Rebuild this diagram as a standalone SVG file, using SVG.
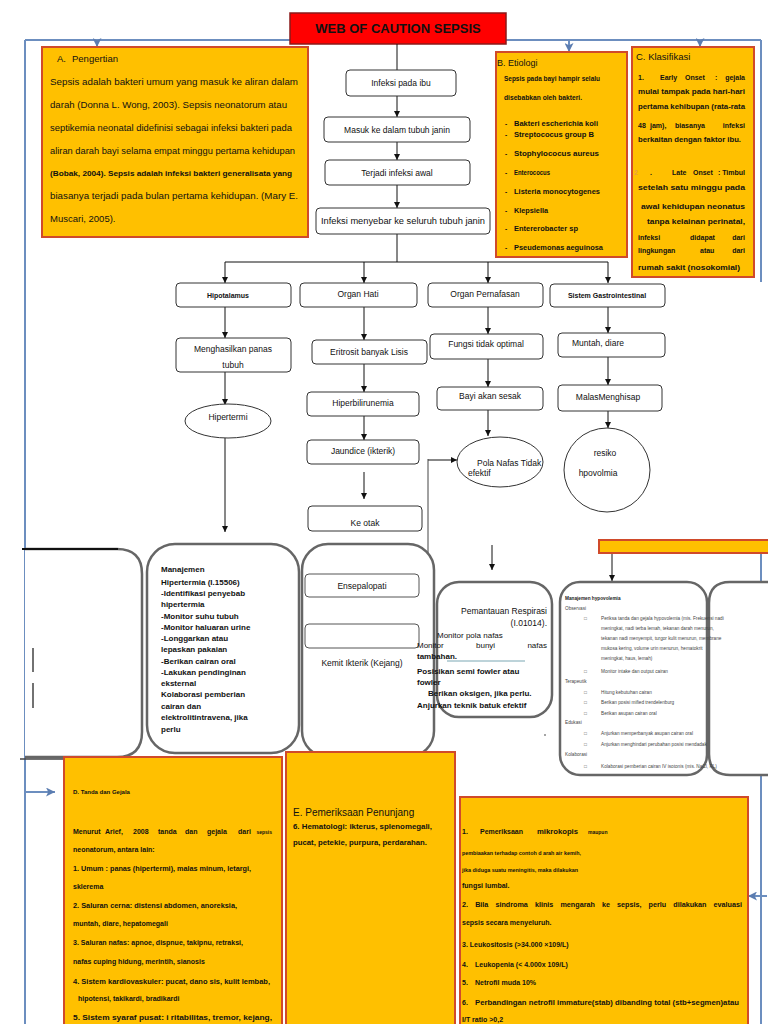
<svg xmlns="http://www.w3.org/2000/svg" width="768" height="1024" viewBox="0 0 768 1024">
<defs>
<marker id="ah" viewBox="0 0 8 8" refX="8" refY="4" markerWidth="6" markerHeight="6" markerUnits="userSpaceOnUse" orient="auto"><path d="M0,0 L8,4 L0,8 z" fill="#111"/></marker>
<marker id="bh" viewBox="0 0 8 8" refX="8" refY="4" markerWidth="9" markerHeight="9" markerUnits="userSpaceOnUse" orient="auto"><path d="M0,0 L8,4 L0,8 L2,4 z" fill="#5B7DB1"/></marker>
<style>
.orange{fill:#FFC000;stroke:#D04A2A;stroke-width:2}
.fb{fill:#fff;stroke:#333;stroke-width:1}
.rb{fill:#fff;stroke:#666;stroke-width:2.5}
.ln{stroke:#111;stroke-width:1;fill:none}
.bl{stroke:#6C8EBF;stroke-width:2;fill:none}
.t{font-family:"Liberation Sans",Arial,sans-serif;fill:#111}
.f{font-size:8.5px}
.fs{font-size:7px;font-weight:bold}
.a{font-size:9.5px}
.b{font-size:6.5px;font-weight:bold}
.c{font-size:7px;font-weight:bold}
.m{font-size:8px;font-weight:bold}
.h{font-size:4.7px;fill:#444}
.d{font-size:7px;font-weight:bold}
.mid{text-anchor:middle}
.e{text-anchor:end}
</style>
</defs>
<rect width="768" height="1024" fill="#fff"/>

<g id="frame">
<path class="bl" d="M25,40 H290 M506,40 H761 M25,40 V1024 M761,40 V282 M761,545 V1024"/>
<line class="bl" x1="97" y1="40" x2="97" y2="47" marker-end="url(#bh)"/>
<line class="bl" x1="569" y1="40" x2="569" y2="52" marker-end="url(#bh)"/>
<line class="bl" x1="700" y1="40" x2="700" y2="47" marker-end="url(#bh)"/>
<line class="bl" x1="25" y1="792" x2="55" y2="792" marker-end="url(#bh)"/>
<line class="bl" x1="767" y1="896" x2="748" y2="896" marker-end="url(#bh)"/>
</g>

<g id="title">
<rect x="290" y="13" width="216" height="31" fill="#FF0000" stroke="#8B1A1A" stroke-width="1.5"/>
<text class="t mid" x="398" y="33" style="font-size:13px;font-weight:bold">WEB OF CAUTION SEPSIS</text>
</g>

<g id="boxA">
<rect class="orange" x="42" y="47" width="266" height="190"/>
<text class="t a" x="57" y="62">A.</text><text class="t a" x="72" y="62">Pengertian</text>
<text class="t a" x="50" y="85" textLength="248" lengthAdjust="spacingAndGlyphs">Sepsis adalah bakteri umum yang masuk ke aliran dalam</text>
<text class="t a" x="50" y="108" textLength="237" lengthAdjust="spacingAndGlyphs">darah (Donna L. Wong, 2003). Sepsis neonatorum atau</text>
<text class="t a" x="50" y="131" textLength="242" lengthAdjust="spacingAndGlyphs">septikemia neonatal didefinisi sebagai infeksi bakteri pada</text>
<text class="t a" x="50" y="154" textLength="245" lengthAdjust="spacingAndGlyphs">aliran darah bayi selama empat minggu pertama kehidupan</text>
<text class="t" x="50" y="176" style="font-size:7.5px;font-weight:bold" textLength="242" lengthAdjust="spacingAndGlyphs">(Bobak, 2004). Sepsis adalah infeksi bakteri generalisata yang</text>
<text class="t a" x="50" y="199" textLength="248" lengthAdjust="spacingAndGlyphs">biasanya terjadi pada bulan pertama kehidupan. (Mary E.</text>
<text class="t a" x="50" y="222">Muscari, 2005).</text>
</g>

<g id="boxB">
<rect class="orange" x="496" y="52" width="131" height="205"/>
<text class="t" x="497" y="66" style="font-size:9px">B. Etiologi</text>
<text class="t b" x="504" y="81" textLength="96" lengthAdjust="spacingAndGlyphs">Sepsis pada bayi hampir selalu</text>
<text class="t b" x="504" y="100" textLength="78" lengthAdjust="spacingAndGlyphs">disebabkan oleh bakteri.</text>
<g class="t b">
<text x="505" y="126">-</text><text x="514" y="126" textLength="84" lengthAdjust="spacingAndGlyphs">Bakteri escherichia koli</text>
<text x="505" y="137">-</text><text x="514" y="137" textLength="80" lengthAdjust="spacingAndGlyphs">Streptococus group B</text>
<text x="505" y="156">-</text><text x="514" y="156" textLength="85" lengthAdjust="spacingAndGlyphs">Stophylococus aureus</text>
<text x="505" y="175">-</text><text x="514" y="175" textLength="36" lengthAdjust="spacingAndGlyphs">Enterococus</text>
<text x="505" y="194">-</text><text x="514" y="194" textLength="86" lengthAdjust="spacingAndGlyphs">Listeria monocytogenes</text>
<text x="505" y="213">-</text><text x="514" y="213" textLength="34" lengthAdjust="spacingAndGlyphs">Klepsiella</text>
<text x="505" y="231">-</text><text x="514" y="231" textLength="64" lengthAdjust="spacingAndGlyphs">Entererobacter sp</text>
<text x="505" y="250">-</text><text x="514" y="250" textLength="89" lengthAdjust="spacingAndGlyphs">Pseudemonas aeguinosa</text>
</g>
</g>

<g id="boxC">
<rect class="orange" x="632" y="47" width="122" height="230"/>
<text class="t" x="636" y="60" style="font-size:9.5px">C. Klasifikasi</text>
<g class="t c">
<text x="638" y="79.5">1.</text><text x="660" y="79.5">Early</text><text x="685" y="79.5">Onset</text><text x="715" y="79.5">:</text><text x="745" y="79.5" class="e">gejala</text>
<text x="638" y="94" textLength="107" lengthAdjust="spacingAndGlyphs">mulai tampak pada hari-hari</text>
<text x="638" y="108.5" textLength="107" lengthAdjust="spacingAndGlyphs">pertama kehibupan (rata-rata</text>
<text x="638" y="127.5">48</text><text x="650" y="127.5">jam),</text><text x="675" y="127.5">biasanya</text><text x="745" y="127.5" class="e">infeksi</text>
<text x="638" y="141.5" textLength="103" lengthAdjust="spacingAndGlyphs">berkaitan dengan faktor ibu.</text>
<text x="634" y="174.5" style="fill:#E8A040">2</text>
<text x="650" y="174.5">.</text><text x="672" y="174.5">Late</text><text x="693" y="174.5">Onset</text><text x="718" y="174.5">:</text><text x="745" y="174.5" class="e">Timbul</text>
<text x="638" y="189.5" textLength="107" lengthAdjust="spacingAndGlyphs">setelah satu minggu pada</text>
<text x="641" y="208.5" textLength="104" lengthAdjust="spacingAndGlyphs">awal kehidupan neonatus</text>
<text x="647" y="223.5" textLength="98" lengthAdjust="spacingAndGlyphs">tanpa kelainan perinatal,</text>
<text x="638" y="239.5">infeksi</text><text x="690" y="239.5">didapat</text><text x="745" y="239.5" class="e">dari</text>
<text x="638" y="252.5">lingkungan</text><text x="700" y="252.5">atau</text><text x="745" y="252.5" class="e">dari</text>
<text x="638" y="269.5" textLength="102" lengthAdjust="spacingAndGlyphs">rumah sakit (nosokomial)</text>
</g>
</g>

<g id="connectors">
<path class="ln" d="M397,44 V70"/>
<line class="ln" x1="397" y1="96" x2="397" y2="117" marker-end="url(#ah)"/>
<line class="ln" x1="397" y1="142" x2="397" y2="160" marker-end="url(#ah)"/>
<line class="ln" x1="397" y1="185" x2="397" y2="208" marker-end="url(#ah)"/>
<path class="ln" d="M397,234 V262 M225,262 H608"/>
<line class="ln" x1="225" y1="262" x2="225" y2="283" marker-end="url(#ah)"/>
<line class="ln" x1="364" y1="262" x2="364" y2="283" marker-end="url(#ah)"/>
<line class="ln" x1="488" y1="262" x2="488" y2="283" marker-end="url(#ah)"/>
<line class="ln" x1="608" y1="262" x2="608" y2="283" marker-end="url(#ah)"/>
<line class="ln" x1="225" y1="307" x2="225" y2="338" marker-end="url(#ah)"/>
<line class="ln" x1="225" y1="372" x2="225" y2="405" marker-end="url(#ah)"/>
<line class="ln" x1="225" y1="438" x2="225" y2="532" marker-end="url(#ah)"/>
<line class="ln" x1="364" y1="307" x2="364" y2="340" marker-end="url(#ah)"/>
<line class="ln" x1="364" y1="363" x2="364" y2="392" marker-end="url(#ah)"/>
<line class="ln" x1="364" y1="416" x2="364" y2="440" marker-end="url(#ah)"/>
<line class="ln" x1="364" y1="472" x2="364" y2="499" marker-end="url(#ah)"/>
<line class="ln" x1="428" y1="460" x2="457" y2="460" marker-end="url(#ah)"/>
<path class="ln" d="M428,459 V632 H419" style="stroke:#444"/>
<line class="ln" x1="488" y1="307" x2="488" y2="334" marker-end="url(#ah)"/>
<line class="ln" x1="488" y1="359" x2="488" y2="387" marker-end="url(#ah)"/>
<line class="ln" x1="488" y1="410" x2="488" y2="436" marker-end="url(#ah)"/>
<line class="ln" x1="608" y1="307" x2="608" y2="333" marker-end="url(#ah)"/>
<line class="ln" x1="608" y1="357" x2="608" y2="385" marker-end="url(#ah)"/>
<line class="ln" x1="608" y1="411" x2="608" y2="428" marker-end="url(#ah)"/>
<line class="ln" x1="360" y1="552" x2="360" y2="569" marker-end="url(#ah)"/>
<line class="ln" x1="360" y1="603" x2="360" y2="619" marker-end="url(#ah)"/>
<line class="ln" x1="492" y1="545" x2="492" y2="570" marker-end="url(#ah)"/>
<line class="ln" x1="612" y1="553" x2="612" y2="581" marker-end="url(#ah)"/>
</g>

<g id="n-infeksi-ibu"><rect class="fb" x="346" y="70" width="110" height="26" rx="4"/><text class="t f mid" x="401" y="86">Infeksi pada ibu</text></g>
<g id="n-masuk"><rect class="fb" x="324" y="117" width="146" height="25" rx="4"/><text class="t f mid" x="397" y="133">Masuk ke dalam tubuh janin</text></g>
<g id="n-awal"><rect class="fb" x="325" y="160" width="145" height="25" rx="4"/><text class="t f mid" x="397" y="176">Terjadi infeksi awal</text></g>
<g id="n-menyebar"><rect class="fb" x="316" y="208" width="174" height="26" rx="4"/><text class="t f mid" x="403" y="224" textLength="164" lengthAdjust="spacingAndGlyphs">Infeksi menyebar ke seluruh tubuh janin</text></g>

<g id="n-hipotalamus"><rect class="fb" x="176" y="283" width="115" height="24" rx="4"/><text class="t fs mid" x="228" y="298">Hipotalamus</text></g>
<g id="n-hati"><rect class="fb" x="300" y="283" width="117" height="24" rx="4"/><text class="t f mid" x="358" y="297">Organ Hati</text></g>
<g id="n-pernafasan"><rect class="fb" x="428" y="283" width="115" height="24" rx="4"/><text class="t f mid" x="485" y="297">Organ Pernafasan</text></g>
<g id="n-gastro"><rect class="fb" x="550" y="284" width="115" height="23" rx="4"/><text class="t fs mid" x="607" y="298">Sistem Gastrointestinal</text></g>

<g id="n-panas"><rect class="fb" x="176" y="338" width="115" height="34" rx="4"/><text class="t f mid" x="233" y="352">Menghasilkan panas</text><text class="t f mid" x="233" y="368">tubuh</text></g>
<g id="n-hipertermi"><ellipse class="fb" cx="228" cy="421" rx="43" ry="17"/><text class="t f mid" x="228" y="420">Hipertermi</text></g>

<g id="n-eritrosit"><rect class="fb" x="312" y="340" width="115" height="24" rx="4"/><text class="t f mid" x="369" y="355">Eritrosit banyak Lisis</text></g>
<g id="n-hiperbili"><rect class="fb" x="307" y="392" width="112" height="24" rx="4"/><text class="t f mid" x="363" y="406">Hiperbilirunemia</text></g>
<g id="n-jaundice"><rect class="fb" x="307" y="440" width="112" height="24" rx="4"/><text class="t f mid" x="363" y="454">Jaundice (ikterik)</text></g>
<g id="n-keotak"><rect class="fb" x="308" y="506" width="114" height="25" rx="4"/><text class="t f mid" x="365" y="526">Ke otak</text></g>

<g id="n-fungsi"><rect class="fb" x="430" y="334" width="113" height="25" rx="4"/><text class="t f mid" x="486" y="347">Fungsi tidak optimal</text></g>
<g id="n-sesak"><rect class="fb" x="437" y="387" width="106" height="23" rx="4"/><text class="t f mid" x="490" y="399">Bayi akan sesak</text></g>
<g id="n-polanafas"><ellipse class="fb" cx="500" cy="462" rx="43" ry="25"/><text class="t f" x="477" y="466">Pola Nafas Tidak</text><text class="t f" x="468" y="476">efektif</text></g>

<g id="n-muntah"><rect class="fb" x="558" y="333" width="107" height="24" rx="4"/><text class="t f mid" x="598" y="346">Muntah, diare</text></g>
<g id="n-malas"><rect class="fb" x="558" y="385" width="104" height="26" rx="4"/><text class="t f mid" x="608" y="400">MalasMenghisap</text></g>
<g id="n-resiko"><ellipse class="fb" cx="607" cy="470" rx="43" ry="42"/><text class="t f mid" x="605" y="456">resiko</text><text class="t f mid" x="598" y="476">hpovolmia</text></g>

<g id="n-leftpartial">
<path d="M25,549 H117 Q142,549 142,574 V732 Q142,757 117,757 H25" class="rb"/>
<path d="M22,549 H118" stroke="#111" stroke-width="2"/>
<path d="M20,759 H65" stroke="#444" stroke-width="1.5"/>
<path d="M33,648 V672 M33,683 V708" stroke="#444" stroke-width="1.5"/>
</g>

<g id="n-manajemen-hipertermia">
<rect class="rb" x="147" y="544" width="152" height="209" rx="28"/>
<g class="t m">
<text x="161" y="572">Manajemen</text>
<text x="161" y="585">Hipertermia (I.15506)</text>
<text x="161" y="596">-Identifikasi penyebab</text>
<text x="161" y="607">hipertermia</text>
<text x="161" y="619">-Monitor suhu tubuh</text>
<text x="161" y="630">-Monitor haluaran urine</text>
<text x="161" y="641">-Longgarkan atau</text>
<text x="161" y="652">lepaskan pakaian</text>
<text x="161" y="664">-Berikan cairan oral</text>
<text x="161" y="675">-Lakukan pendinginan</text>
<text x="161" y="686">eksternal</text>
<text x="161" y="697">Kolaborasi pemberian</text>
<text x="161" y="709">cairan dan</text>
<text x="161" y="720">elektrolitintravena, jika</text>
<text x="161" y="732">perlu</text>
</g>
</g>

<g id="n-otak-panel">
<rect class="rb" x="302" y="544" width="132" height="213" rx="26"/>
</g>
<g id="n-ensepalopati"><rect class="fb" x="305" y="574" width="114" height="23" rx="4" style="stroke:#555"/><text class="t f mid" x="362" y="589">Ensepalopati</text></g>
<g id="n-kemit"><rect class="fb" x="305" y="624" width="114" height="24" rx="4" style="stroke:#555"/><text class="t f mid" x="362" y="666">Kemit Ikterik (Kejang)</text></g>

<g id="n-pemantauan">
<rect class="rb" x="437" y="582" width="115" height="135" rx="22"/>
<g class="t" style="font-size:8px;font-weight:bold">
<text x="547" y="614" text-anchor="end" style="font-weight:normal;font-size:8.5px">Pemantauan Respirasi</text>
<text x="547" y="626" text-anchor="end" style="font-weight:normal;font-size:8.5px">(I.01014).</text>
<text x="437" y="638" style="font-weight:normal">Monitor pola nafas</text>
<text x="417" y="648" style="font-weight:normal">Monitor</text>
<text x="476" y="648" style="font-weight:normal">bunyi</text>
<text x="547" y="648" style="font-weight:normal" text-anchor="end">nafas</text>
<text x="417" y="659">tambahan.</text>
<text x="417" y="674">Posisikan semi fowler atau</text>
<text x="417" y="685">fowler</text>
<text x="428" y="696">Berikan oksigen, jika perlu.</text>
<text x="417" y="708">Anjurkan teknik batuk efektif</text>
</g>
<path d="M447,661 H525" stroke="#7AA7B3" stroke-width="1"/>
<circle cx="545" cy="735" r="0.8" fill="#333"/>
</g>

<g id="orange-strip"><rect class="orange" x="599" y="540" width="170" height="13"/></g>

<g id="n-rightpartial">
<path class="rb" d="M769,582 H730 Q709,582 709,603 V754 Q709,775 730,775 H769"/>
</g>
<g id="n-hypovolemia">
<rect class="rb" x="560" y="582" width="147" height="193" rx="20"/>
<g class="t h">
<text x="565" y="600" style="font-weight:bold;fill:#222">Manajemen hypovolemia</text>
<text x="565" y="610">Observasi</text>
<text x="584" y="620">□</text><text x="601" y="620">Periksa tanda dan gejala hypovolemia (mis. Frekuensi nadi</text>
<text x="601" y="630">meningkat, nadi terba lemah, tekanan darah menurun,</text>
<text x="601" y="640">tekanan nadi menyempit, turgor kulit menurun, membrane</text>
<text x="601" y="650">mukosa kering, volume urin menurun, hematokrit</text>
<text x="601" y="660">meningkat, haus, lemah)</text>
<text x="584" y="673">□</text><text x="601" y="673">Monitor intake dan output cairan</text>
<text x="565" y="683">Terapeutik</text>
<text x="584" y="694">□</text><text x="601" y="694">Hitung kebutuhan cairan</text>
<text x="584" y="704">□</text><text x="601" y="704">Berikan posisi mified trendelenburg</text>
<text x="584" y="715">□</text><text x="601" y="715">Berikan asupan cairan oral</text>
<text x="565" y="724">Edukasi</text>
<text x="584" y="735">□</text><text x="601" y="735">Anjurkan memperbanyak asupan cairan oral</text>
<text x="584" y="746">□</text><text x="601" y="746">Anjurkan menghindari perubahan posisi mendadak</text>
<text x="565" y="756">Kolaborasi</text>
<text x="584" y="768">□</text><text x="601" y="768">Kolaborasi pemberian cairan IV isotonis (mis. NaCl, RL)</text>
</g>
</g>

<g id="boxD">
<rect class="orange" x="64" y="757" width="218" height="280"/>
<g class="t d">
<text x="73" y="794" style="font-size:6px">D. Tanda dan Gejala</text>
<text x="73" y="834">Menurut</text><text x="105" y="834">Arief,</text><text x="133" y="834">2008</text><text x="158" y="834">tanda</text><text x="185" y="834">dan</text><text x="207" y="834">gejala</text><text x="238" y="834">dari</text><text x="272" y="834" class="e" style="font-size:5px">sepsis</text>
<text x="73" y="852">neonatorum, antara lain:</text>
<text x="73" y="871" textLength="178" lengthAdjust="spacingAndGlyphs">1. Umum : panas (hipertermi), malas minum, letargi,</text>
<text x="73" y="889">sklerema</text>
<text x="73" y="908" textLength="164" lengthAdjust="spacingAndGlyphs">2. Saluran cerna: distensi abdomen, anoreksia,</text>
<text x="73" y="926">muntah, diare, hepatomegali</text>
<text x="73" y="945" textLength="170" lengthAdjust="spacingAndGlyphs">3. Saluran nafas: apnoe, dispnue, takipnu, retraksi,</text>
<text x="73" y="964">nafas cuping hidung, merintih, sianosis</text>
<text x="73" y="984" textLength="197" lengthAdjust="spacingAndGlyphs">4. Sistem kardiovaskuler: pucat, dano sis, kulit lembab,</text>
<text x="78" y="1001">hipotensi, takikardi, bradikardi</text>
<text x="73" y="1020" textLength="199" lengthAdjust="spacingAndGlyphs">5. Sistem syaraf pusat: i ritabilitas, tremor, kejang,</text>
</g>
</g>

<g id="boxE">
<rect class="orange" x="286" y="752" width="169" height="285"/>
<text class="t" x="293" y="816" style="font-size:10px">E. Pemeriksaan Penunjang</text>
<text class="t d" x="293" y="829" textLength="139" lengthAdjust="spacingAndGlyphs">6. Hematologi: ikterus, splenomegali,</text>
<text class="t d" x="293" y="845" textLength="134" lengthAdjust="spacingAndGlyphs">pucat, petekie, purpura, perdarahan.</text>
</g>

<g id="boxF">
<rect class="orange" x="460" y="797" width="288" height="240"/>
<g class="t d">
<text x="462" y="834">1.</text>
<text x="480" y="834" textLength="43" lengthAdjust="spacingAndGlyphs">Pemeriksaan</text>
<text x="537" y="834" textLength="41" lengthAdjust="spacingAndGlyphs">mikrokopis</text>
<text x="588" y="834" style="font-size:5px">maupun</text>
<text x="462" y="855" style="font-size:5.5px" textLength="119" lengthAdjust="spacingAndGlyphs">pembiaakan terhadap contoh d arah air kemih,</text>
<text x="462" y="872" style="font-size:5.5px" textLength="116" lengthAdjust="spacingAndGlyphs">jika diduga suatu meningitis, maka dilakukan</text>
<text x="462" y="888">fungsi lumbal.</text>
<text x="462" y="907" style="word-spacing:5px" textLength="280" lengthAdjust="spacingAndGlyphs">2. Bila sindroma klinis mengarah ke sepsis, perlu dilakukan evaluasi</text>
<text x="462" y="925">sepsis secara menyeluruh.</text>
<text x="462" y="947">3. Leukositosis (&gt;34.000 ×109/L)</text>
<text x="462" y="967">4.</text><text x="475" y="967">Leukopenia (&lt; 4.000x 109/L)</text>
<text x="462" y="985">5.</text><text x="475" y="985">Netrofil muda 10%</text>
<text x="462" y="1005">6.</text><text x="475" y="1005" textLength="264" lengthAdjust="spacingAndGlyphs">Perbandingan netrofil immature(stab) dibanding total (stb+segmen)atau</text>
<text x="462" y="1022">I/T ratio &gt;0,2</text>
</g>
</g>
</svg>
